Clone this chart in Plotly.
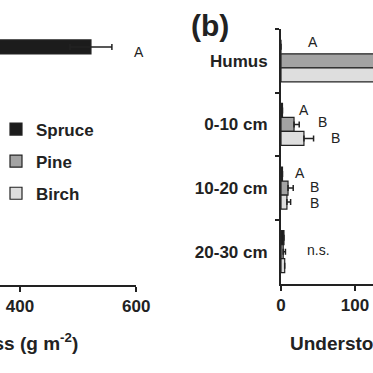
import plotly.graph_objects as go

# ---------------- data ----------------
categories = ["Humus", "0-10 cm", "10-20 cm", "20-30 cm"]
series = ["Spruce", "Pine", "Birch"]

# panel (a) tree root biomass (only visible part of the crop)
tree_spruce = [522, None, None, None]
tree_spruce_err = [36, 0, 0, 0]
tree_pine = [None, None, None, None]
tree_birch = [None, None, None, None]

# panel (b) understory root biomass
under_spruce = [0, 2, 2, 4]
under_spruce_err = [0, 0, 0, 0]
under_pine = [180, 17.6, 9.5, 3]
under_pine_err = [0, 7, 7, 3]
under_birch = [190, 31, 8, 5]
under_birch_err = [0, 13, 5, 0]

letters = [("A", 313, 42), ("A", 304, 110), ("B", 322, 122), ("B", 335, 138),
           ("A", 300, 173), ("B", 314, 187), ("B", 314, 203), ("n.s.", 318, 250)]

x_ticks_a = [0, 200, 400, 600]
x_ticks_b = [0, 100, 200, 300, 400]

# ---------------- styling ----------------
W = H = 373
FONT = "Arial, Liberation Sans, sans-serif"
INK = "#222222"
colors = {"Spruce": "#1c1c1c", "Pine": "#a3a3a3", "Birch": "#dedede"}


def px(p):
    return p / W


def py(p):
    return 1 - p / H


fig = go.Figure()

tree_vals = {"Spruce": (tree_spruce, tree_spruce_err),
             "Pine": (tree_pine, [0] * 4),
             "Birch": (tree_birch, [0] * 4)}
under_vals = {"Spruce": (under_spruce, under_spruce_err),
              "Pine": (under_pine, under_pine_err),
              "Birch": (under_birch, under_birch_err)}

for s in series:
    v, e = tree_vals[s]
    fig.add_trace(go.Bar(
        y=categories, x=v, orientation="h", name=s, legendgroup=s,
        showlegend=False, xaxis="x", yaxis="y",
        marker=dict(color=colors[s], line=dict(color=INK, width=1.2)),
        error_x=dict(type="data", array=e, symmetric=True, color=INK,
                     thickness=1.5, width=3),
    ))

for s in series:
    v, e = under_vals[s]
    fig.add_trace(go.Bar(
        y=categories, x=v, orientation="h", name=s, legendgroup=s,
        showlegend=True, xaxis="x2", yaxis="y2",
        marker=dict(color=colors[s], line=dict(color=INK, width=1.2)),
        error_x=dict(type="data", array=e, arrayminus=[0] * len(e),
                     symmetric=False, color=INK, thickness=1.5, width=3),
    ))

axis_common = dict(showline=True, linecolor=INK, linewidth=2, ticks="outside",
                   ticklen=5, tickwidth=2, tickcolor=INK, showgrid=False,
                   zeroline=False, automargin=False,
                   tickfont=dict(family=FONT, size=17, color=INK, weight="bold"))


def ann(text, x, y, size, xanchor="center"):
    return dict(text=text, x=px(x), y=py(y), xref="paper", yref="paper",
                xanchor=xanchor, yanchor="middle", showarrow=False,
                font=dict(family=FONT, size=size, color=INK))


annotations = [ann(t, x, y, 14) for t, x, y in letters]
annotations.append(ann("A", 139, 52, 14))
annotations.append(ann("<b>(b)</b>", 210, 25, 30))
annotations.append(ann("<b>Tree root biomass (g m<sup>-2</sup>)</b>", 80, 342, 19, "right"))
annotations.append(ann("<b>Understory root biomass (g m<sup>-2</sup>)</b>", 288, 342, 19, "left"))

fig.update_layout(
    width=W, height=H, margin=dict(l=0, r=0, t=0, b=0, autoexpand=False),
    paper_bgcolor="white", plot_bgcolor="white",
    barmode="group", bargap=0.34, bargroupgap=0,
    font=dict(family=FONT, color=INK),
    xaxis=dict(domain=[0, px(136.3)], range=[365.5, 600], anchor="y",
               tickvals=x_ticks_a, ticklabelstandoff=0, **axis_common),
    yaxis=dict(domain=[py(285), py(29)], anchor="x", autorange="reversed",
               type="category", categoryorder="array", categoryarray=categories,
               visible=False),
    xaxis2=dict(domain=[px(281), 1], range=[0, 124.3], anchor="y2",
                tickvals=x_ticks_b, ticklabelstandoff=0, **axis_common),
    yaxis2=dict(domain=[py(283.5), py(29)], anchor="x2", autorange="reversed",
                type="category", categoryorder="array", categoryarray=categories,
                tickson="boundaries", ticklabelstandoff=8, **{**axis_common, "ticklen": 4}),
    legend=dict(x=px(-4), y=py(111.5), xanchor="left", yanchor="top",
                traceorder="grouped", tracegroupgap=7, bgcolor="rgba(0,0,0,0)",
                font=dict(family=FONT, size=17, color=INK, weight="bold")),
    annotations=annotations,
)

fig.write_html("out.html", config={"displayModeBar": False},
               post_script="document.body.style.margin='0';")
